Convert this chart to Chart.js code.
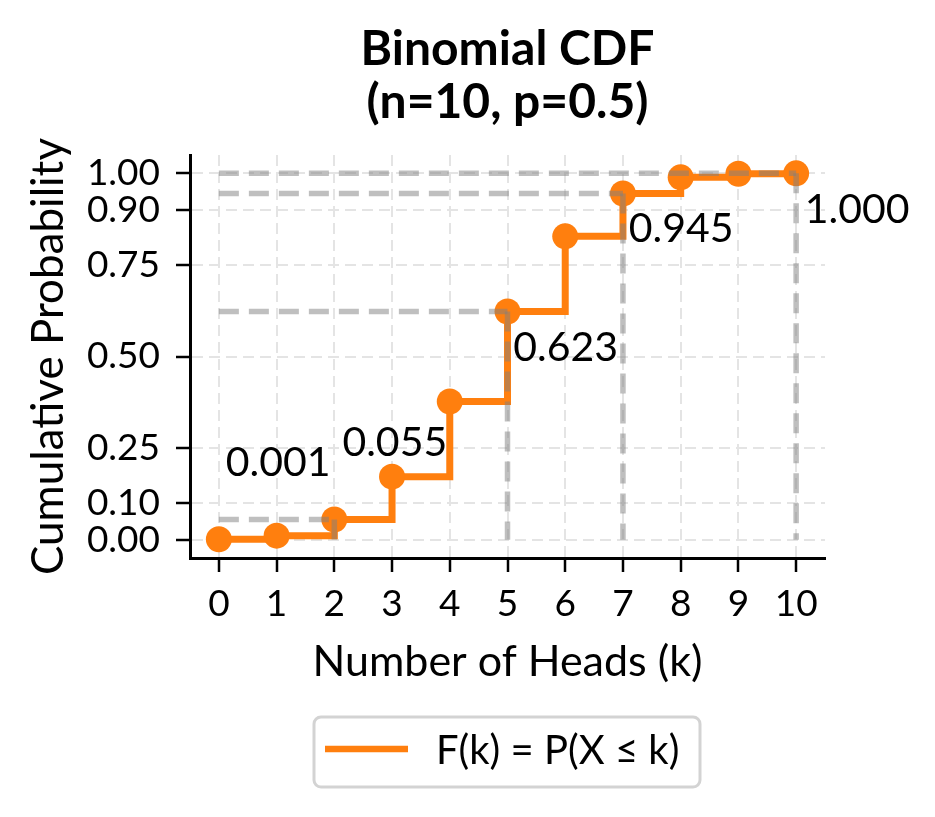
<!DOCTYPE html>
<html>
<head>
<meta charset="utf-8">
<script src="https://cdn.jsdelivr.net/npm/chart.js@4.4.0/dist/chart.umd.min.js"></script>
<style>
  html, body { margin: 0; padding: 0; background: #fff; }
</style>
</head>
<body>
<canvas id="cdfChart" width="935" height="817"></canvas>
<script>
/* =======================
   DATA
======================= */
const kValues = [0, 1, 2, 3, 4, 5, 6, 7, 8, 9, 10];
const cdfValues = [0.001, 0.011, 0.055, 0.172, 0.377, 0.623, 0.828, 0.945, 0.989, 0.999, 1.000];
const xTicks = [0, 1, 2, 3, 4, 5, 6, 7, 8, 9, 10];
const yTicks = [0, 0.10, 0.25, 0.50, 0.75, 0.90, 1.00];
const refK = [2, 5, 7, 10];          // dashed guide lines
const labelK = [0, 2, 5, 7, 10];     // value labels

// where each value label sits (data coords: left edge, middle)
const labelPos = [[0.12, 0.21], [2.14, 0.265], [5.1, 0.525], [7.1, 0.848], [10.15, 0.9]];

const FONT = 'Lato, "Noto Sans", sans-serif';
const ORANGE = '#ff7f0e';

/* =======================
   EXTRA DRAWING
======================= */
const extras = {
  id: 'extras',
  afterDatasetsDraw(chart) {
    const { ctx, scales: { x, y } } = chart;

    // gray guide lines
    ctx.save();
    ctx.strokeStyle = 'rgba(128,128,128,0.5)';
    ctx.lineWidth = 5.5;
    ctx.setLineDash([20, 10]);
    refK.forEach(k => {
      const v = cdfValues[k];
      ctx.beginPath();
      ctx.moveTo(x.getPixelForValue(0), y.getPixelForValue(v));
      ctx.lineTo(x.getPixelForValue(k), y.getPixelForValue(v));
      ctx.stroke();
      ctx.beginPath();
      ctx.moveTo(x.getPixelForValue(k), y.getPixelForValue(v));
      ctx.lineTo(x.getPixelForValue(k), y.getPixelForValue(0));
      ctx.stroke();
    });
    ctx.restore();

    // value labels
    ctx.save();
    ctx.fillStyle = '#000';
    ctx.font = '41px ' + FONT;
    ctx.textAlign = 'left';
    ctx.textBaseline = 'middle';
    labelK.forEach((k, i) => {
      ctx.fillText(cdfValues[k].toFixed(3),
        x.getPixelForValue(labelPos[i][0]),
        y.getPixelForValue(labelPos[i][1]));
    });
    ctx.restore();
  },
  afterDraw(chart) {
    const { ctx } = chart;
    const cx = (chart.chartArea.left + chart.chartArea.right) / 2;

    // title
    ctx.save();
    ctx.fillStyle = '#000';
    ctx.font = 'bold 48px ' + FONT;
    ctx.textAlign = 'center';
    ctx.textBaseline = 'middle';
    ctx.fillText('Binomial CDF', cx, 50);
    ctx.fillText('(n=10, p=0.5)', cx, 103);
    ctx.restore();

    // legend box
    ctx.save();
    ctx.fillStyle = '#fff';
    ctx.strokeStyle = '#d3d3d3';
    ctx.lineWidth = 3;
    ctx.beginPath();
    ctx.roundRect(314, 717, 386, 70, 7);
    ctx.fill();
    ctx.stroke();
    ctx.strokeStyle = ORANGE;
    ctx.lineWidth = 6.5;
    ctx.beginPath();
    ctx.moveTo(325, 749);
    ctx.lineTo(408, 749);
    ctx.stroke();
    ctx.fillStyle = '#000';
    ctx.font = '40px ' + FONT;
    ctx.textAlign = 'left';
    ctx.textBaseline = 'middle';
    ctx.fillText('F(k) = P(X \u2264 k)', 436, 751);
    ctx.restore();
  }
};

/* =======================
   CHART
======================= */
const gridOpts = {
  color: '#e4e4e4',
  lineWidth: 2,
  tickLength: 14,
  tickColor: '#000',
  tickWidth: 2.5,
  tickBorderDash: []
};

new Chart(document.getElementById('cdfChart'), {
  type: 'line',
  data: {
    datasets: [{
      label: 'F(k) = P(X \u2264 k)',
      data: kValues.map((k, i) => ({ x: k, y: cdfValues[i] })),
      borderColor: ORANGE,
      backgroundColor: ORANGE,
      borderWidth: 7,
      stepped: 'before',
      pointRadius: 13,
      pointHoverRadius: 13,
      pointBorderWidth: 0,
      fill: false
    }]
  },
  options: {
    responsive: false,
    animation: false,
    layout: { padding: { top: 155, right: 110, bottom: 129, left: 0 } },
    plugins: {
      legend: { display: false },
      tooltip: { enabled: false }
    },
    scales: {
      x: {
        type: 'linear',
        min: -0.5,
        max: 10.5,
        afterBuildTicks: s => { s.ticks = xTicks.map(v => ({ value: v })); },
        afterFit: s => { s.height = 130; },
        ticks: {
          color: '#000',
          font: { family: FONT, size: 37 },
          padding: 10,
          maxRotation: 0,
          autoSkip: false
        },
        grid: gridOpts,
        border: { color: '#000', width: 3, dash: [11, 6] },
        title: {
          display: true,
          text: 'Number of Heads (k)',
          color: '#000',
          font: { family: FONT, size: 43 },
          padding: { top: 0, bottom: 0 }
        }
      },
      y: {
        type: 'linear',
        min: -0.05,
        max: 1.05,
        afterBuildTicks: s => { s.ticks = yTicks.map(v => ({ value: v })); },
        afterFit: s => { s.width = 190; },
        ticks: {
          color: '#000',
          font: { family: FONT, size: 37 },
          padding: 16,
          autoSkip: false,
          callback: v => v.toFixed(2)
        },
        grid: gridOpts,
        border: { color: '#000', width: 3, dash: [11, 6] },
        title: {
          display: true,
          text: 'Cumulative Probability',
          color: '#000',
          font: { family: FONT, size: 44 },
          padding: { top: 22, bottom: 0 }
        }
      }
    }
  },
  plugins: [extras]
});
</script>
</body>
</html>
